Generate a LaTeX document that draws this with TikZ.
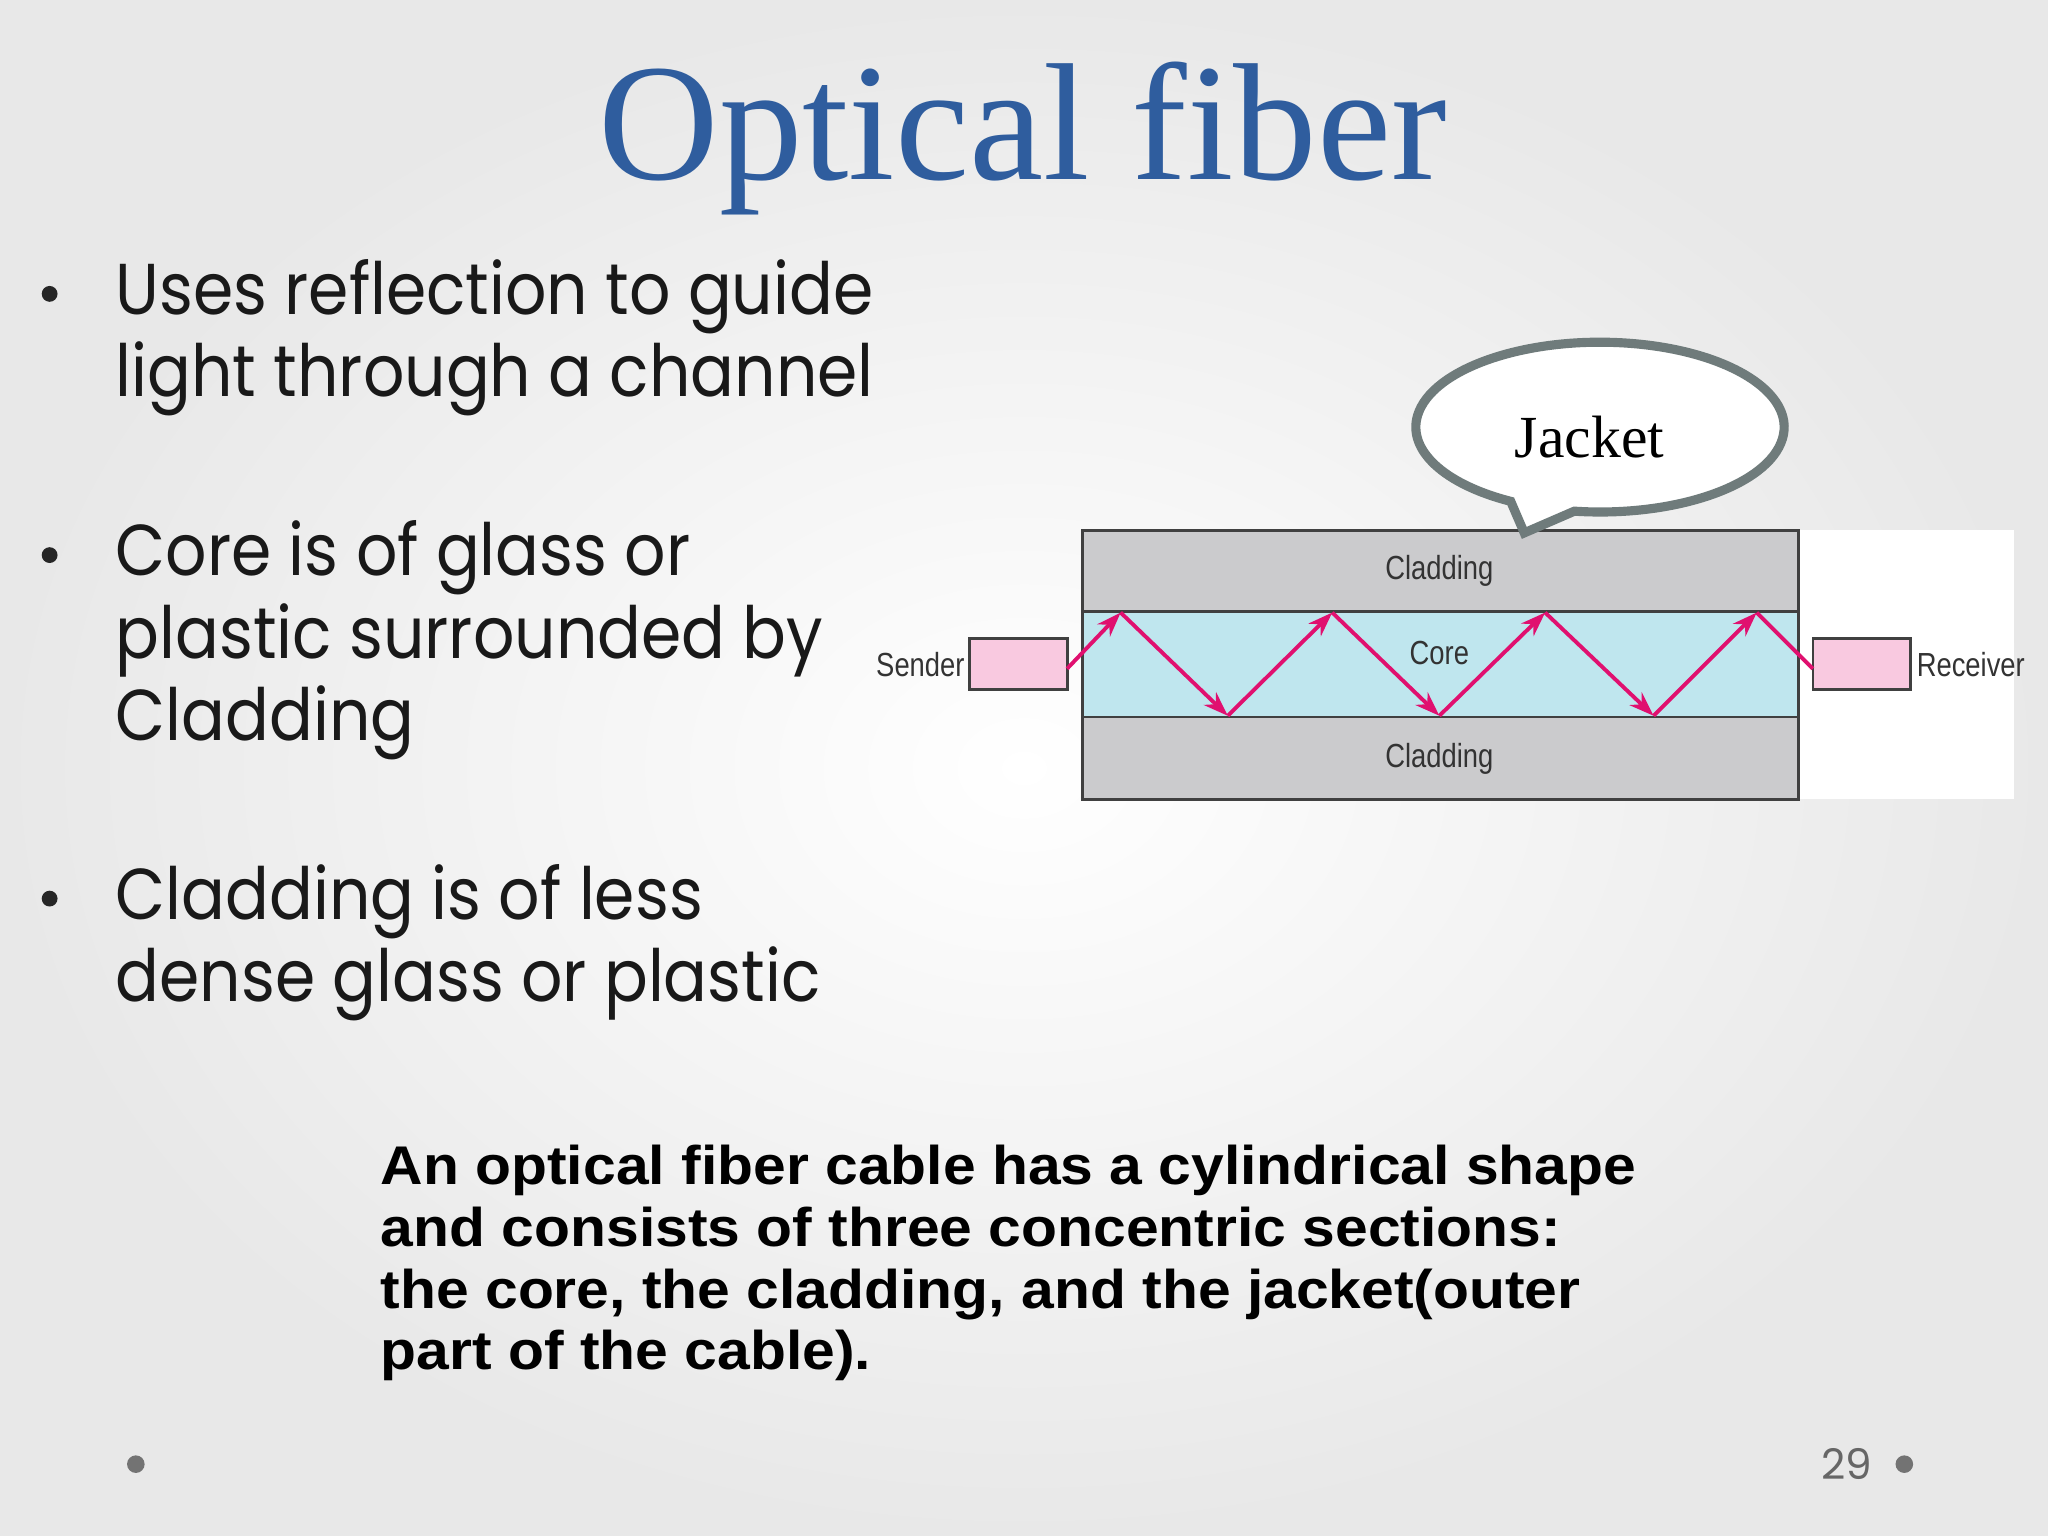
\documentclass[tikz,border=0pt]{standalone}
\usepackage{fontspec}
\setmainfont{Liberation Serif}
\newfontfamily\bulletfont[FakeStretch=0.9]{Poppins}
\newfontfamily\numfont{Poppins}
\newfontfamily\boldsans[FakeStretch=1.08]{Liberation Sans}
\newfontfamily\labfont[FakeStretch=0.82]{Liberation Sans}
\usetikzlibrary{arrows.meta}
\definecolor{titleblue}{HTML}{2F5D9E}
\definecolor{clad}{HTML}{CBCBCD}
\definecolor{corec}{HTML}{BFE6EE}
\definecolor{pinkbox}{HTML}{F9C9E0}
\definecolor{ray}{HTML}{E0106F}
\definecolor{callgray}{HTML}{6F7B7B}
\begin{document}
\begin{tikzpicture}[x=0.013061cm,y=-0.013061cm,
  lab/.style={font=\labfont\fontsize{9.5pt}{11pt}\selectfont, text=black!80, inner sep=0pt},
  bul/.style={font=\bulletfont\fontsize{20.5pt}{23.5pt}\selectfont, anchor=north west, align=left, inner sep=0pt, text=black!90},
  rayarrow/.style={ray, line width=1.1pt, -{Stealth[length=7pt,width=5pt]}},
  dot/.style={circle, fill=black!55, inner sep=0pt, minimum size=5pt}]
\shade[inner color=white, outer color=black!9] (0,0) rectangle (1568,1176);
\useasboundingbox (0,0) rectangle (1568,1176);
\node[font=\fontsize{47.5pt}{50pt}\selectfont, text=titleblue] (title) at (783,106) {Optical fiber};
% bullets
\foreach \y in {225,425,688} \node[dot, minimum size=4.5pt, fill=black!85] at (38,\y) {};
\node[bul] (b1) at (88,198) {Uses reflection to guide\\light through a channel};
\node[bul] (b2) at (88,398) {Core is of glass or\\plastic surrounded by\\Cladding};
\node[bul] (b3) at (88,661) {Cladding is of less\\dense glass or plastic};
% diagram
\fill[white] (1377,406) rectangle (1542,612);
\draw[fill=clad, line width=0.8pt, draw=black!75] (829,406) rectangle (1377,612);
\draw[fill=corec, line width=0.8pt, draw=black!75] (829,468) rectangle (1377,549);
\node[lab] (cl1) at (1102,437) {Cladding};
\node[lab] (core) at (1102,500) {Core};
\node[lab] (cl2) at (1102,581) {Cladding};
\draw[fill=pinkbox, line width=0.8pt, draw=black!75] (742,489) rectangle (817,528);
\draw[fill=pinkbox, line width=0.8pt, draw=black!75] (1388,489) rectangle (1463,528);
\node[lab, anchor=east] (sl) at (739,509) {Sender};
\node[lab, anchor=west] (rl) at (1467,509) {Receiver};
\coordinate (p0) at (817,512);
\coordinate (t1) at (858,469); \coordinate (b1p) at (940,548);
\coordinate (t2) at (1020,469); \coordinate (b2p) at (1102,548);
\coordinate (t3) at (1183,469); \coordinate (b3p) at (1266,548);
\coordinate (t4) at (1345,469); \coordinate (p9) at (1388,512);
\draw[rayarrow] (p0) -- (t1);
\draw[rayarrow] (t1) -- (b1p);
\draw[rayarrow] (b1p) -- (t2);
\draw[rayarrow] (t2) -- (b2p);
\draw[rayarrow] (b2p) -- (t3);
\draw[rayarrow] (t3) -- (b3p);
\draw[rayarrow] (b3p) -- (t4);
\draw[ray, line width=1.1pt] (t4) -- (p9);
% callout
\coordinate (cc) at (1225,327);
\coordinate (tip) at (1167,408);
\draw[draw=callgray, fill=white, line width=2.6pt]
  (cc) ++(98:141 and 65) arc[start angle=98, end angle=-241, x radius=141, y radius=65] -- (tip) -- cycle;
\node[font=\fontsize{17pt}{20pt}\selectfont] (jk) at (1217,335) {Jacket};
% caption
\node[font=\boldsans\bfseries\fontsize{15.5pt}{17.6pt}\selectfont, anchor=north west, align=left, inner sep=0pt] (cap) at (291,876)
 {An optical fiber cable has a cylindrical shape\\and consists of three concentric sections:\\the core, the cladding, and the jacket(outer\\part of the cable).};
\node[dot] (d1) at (104,1121) {};
\node[dot] (d2) at (1458,1121) {};
\node[font=\numfont\fontsize{12pt}{14pt}\selectfont, text=black!60] (num) at (1414,1121) {29};
\end{tikzpicture}
\end{document}
